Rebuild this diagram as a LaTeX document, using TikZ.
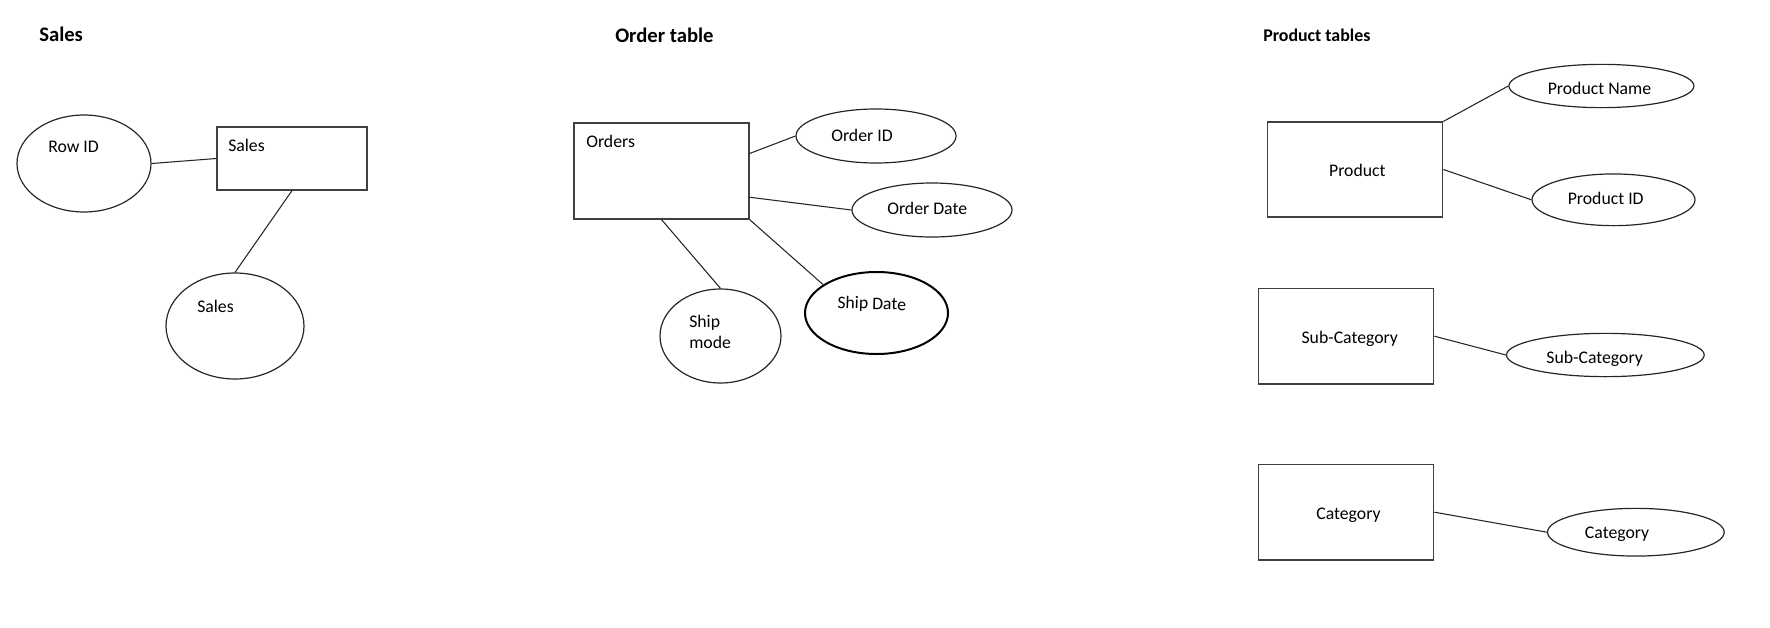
\documentclass[tikz,border=0pt]{standalone}
\usepackage{fontspec}
\setmainfont{Carlito}
\usetikzlibrary{shapes.geometric,calc}
\begin{document}
\begin{tikzpicture}[x=0.75pt,y=-0.75pt,
  ent/.style={draw=black!75, line width=0.9pt, rectangle, inner sep=0pt},
  att/.style={draw=black!85, line width=0.9pt, ellipse, inner sep=0pt},
  lbl/.style={font=\fontsize{13.3}{15}\selectfont, inner sep=0pt, anchor=base west},
  ttl/.style={font=\fontsize{15.5}{18}\selectfont\bfseries, inner sep=0pt, anchor=base west},
  ttls/.style={font=\fontsize{13.4}{15}\selectfont\bfseries, inner sep=0pt, anchor=base west},
  conn/.style={draw=black!85, line width=0.8pt}]
\useasboundingbox (0,0) rectangle (1770,628);

% titles
\node[ttl] (t1) at (39,41.7) {Sales};
\node[ttl] (t2) at (615,42) {Order table};
\node[ttls] (t3) at (1263,41.7) {Product tables};

% Sales group
\node[att, minimum width=134*0.75pt, minimum height=97*0.75pt] (rowid) at (84,163.5) {};
\node[ent, minimum width=150*0.75pt, minimum height=63*0.75pt] (salesR) at (292,158.5) {};
\node[att, minimum width=138*0.75pt, minimum height=106*0.75pt] (salesE) at (235,326) {};
\node[lbl] (rowidT) at (48,152) {Row ID};
\node[lbl] (salesRT) at (228,151) {Sales};
\node[lbl] (salesET) at (197,312) {Sales};
\draw[conn] (rowid.east) -- (salesR.west);
\draw[conn] (salesR.south) -- (salesE.north);

% Order group
\node[ent, minimum width=175*0.75pt, minimum height=96*0.75pt] (orders) at (661.5,171) {};
\node[att, minimum width=160*0.75pt, minimum height=54*0.75pt] (orderid) at (876,136) {};
\node[att, minimum width=160*0.75pt, minimum height=54*0.75pt] (orderdate) at (932,210) {};
\node[att, minimum width=121*0.75pt, minimum height=94*0.75pt] (shipmode) at (720.5,336) {};
\node[att, line width=1.5pt, draw=black, minimum width=143*0.75pt, minimum height=82*0.75pt] (shipdate) at (876.5,313) {};
\node[lbl] (ordersT) at (586,147) {Orders};
\node[lbl] (orderidT) at (831,141) {Order ID};
\node[lbl] (orderdateT) at (887,214) {Order Date};
\node[lbl] (shipT) at (689,327) {Ship};
\node[lbl] (modeT) at (689,348) {mode};
\node[lbl, rotate=-2] (shipdateT) at (837,308) {Ship Date};
\draw[conn] ($(orders.north east)!0.32!(orders.south east)$) -- (orderid.west);
\draw[conn] ($(orders.north east)!0.77!(orders.south east)$) -- (orderdate.west);
\draw[conn] (orders.south) -- (shipmode.north);
\draw[conn] (orders.south east) -- (shipdate.152);

% Product group
\node[ent, minimum width=175.6*0.75pt, minimum height=95*0.75pt] (product) at (1355,169.5) {};
\node[att, minimum width=185*0.75pt, minimum height=43.3*0.75pt] (prodname) at (1601.4,86) {};
\node[att, minimum width=163*0.75pt, minimum height=51.7*0.75pt] (prodid) at (1613.5,199.8) {};
\node[ent, minimum width=175.7*0.75pt, minimum height=95.7*0.75pt] (subcatR) at (1346,336.2) {};
\node[att, minimum width=197.7*0.75pt, minimum height=43.3*0.75pt] (subcatE) at (1605.35,355) {};
\node[ent, minimum width=175.7*0.75pt, minimum height=95.7*0.75pt] (catR) at (1346,512.2) {};
\node[att, minimum width=176.7*0.75pt, minimum height=47.7*0.75pt] (catE) at (1635.85,532.2) {};
\node[lbl] (productT) at (1328.8,176.7) {Product};
\node[lbl] (prodnameT) at (1547.5,94.3) {Product Name};
\node[lbl] (prodidT) at (1567.5,204.3) {Product ID};
\node[lbl] (subcatRT) at (1301.3,343.3) {Sub-Category};
\node[lbl] (subcatET) at (1546.1,363.3) {Sub-Category};
\node[lbl] (catRT) at (1316.1,519.3) {Category};
\node[lbl] (catET) at (1584.7,538.7) {Category};
\draw[conn] (product.north east) -- (prodname.west);
\draw[conn] (product.east) -- (prodid.west);
\draw[conn] (subcatR.east) -- (subcatE.west);
\draw[conn] (catR.east) -- (catE.west);
\end{tikzpicture}
\end{document}
